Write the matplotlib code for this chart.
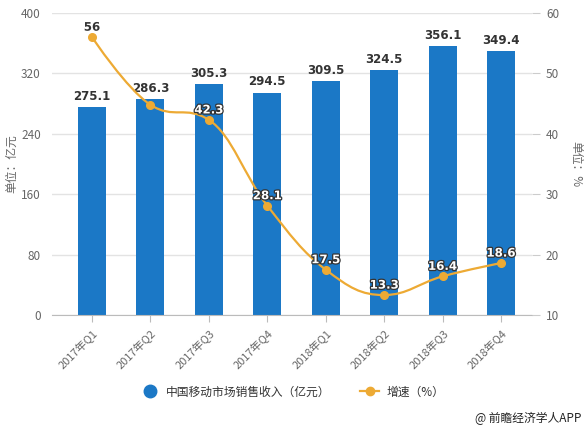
import matplotlib
matplotlib.use("Agg")
import matplotlib.pyplot as plt
from matplotlib.path import Path
from matplotlib.patches import PathPatch
from matplotlib.lines import Line2D
import matplotlib.patheffects as pe

plt.rcParams['font.family'] = ['Noto Sans CJK SC', 'DejaVu Sans']

categories = ["2017年Q1", "2017年Q2", "2017年Q3", "2017年Q4",
              "2018年Q1", "2018年Q2", "2018年Q3", "2018年Q4"]
revenue = [275.1, 286.3, 305.3, 294.5, 309.5, 324.5, 356.1, 349.4]
growth = [56, 44.8, 42.3, 28.1, 17.5, 13.3, 16.4, 18.6]
growth_labels = ["56", "", "42.3", "28.1", "17.5", "13.3", "16.4", "18.6"]
left_ticks = [0, 80, 160, 240, 320, 400]
right_ticks = [10, 20, 30, 40, 50, 60]

BLUE = "#1B78C6"
ORANGE = "#EDAA34"
GRID = "#E3E3E3"
TICKC = "#666666"

W, H = 587, 429
fig = plt.figure(figsize=(W / 100, H / 100), dpi=100)
x0, x1 = 52, 532
y0, y1 = 13, 315
ax = fig.add_axes([x0 / W, 1 - y1 / H, (x1 - x0) / W, (y1 - y0) / H])
ax2 = ax.twinx()

xs = list(range(len(categories)))
ax.bar(xs, revenue, width=0.48, color=BLUE, zorder=2)
ax.set_ylim(0, 400)
ax.set_yticks(left_ticks)
ax.set_xlim(-0.685, 7.53)
ax.set_xticks(xs)
ax.set_xticklabels(categories, rotation=45, ha="right", rotation_mode="anchor",
                   fontsize=8, color=TICKC)
ax.tick_params(axis="x", length=5, color="#BBBBBB", pad=4)
ax.tick_params(axis="y", length=0, labelsize=8.5, labelcolor=TICKC, pad=8)
ax.grid(axis="y", color=GRID, linewidth=1, zorder=0)
ax.set_axisbelow(True)
for s in ["top", "left", "right"]:
    ax.spines[s].set_visible(False)
ax.spines["bottom"].set_color("#BBBBBB")
for s in ax2.spines.values():
    s.set_visible(False)

for x, v in zip(xs, revenue):
    ax.annotate(f"{v:.1f}", (x, v), xytext=(0, 3), textcoords="offset points",
                ha="center", va="bottom", fontsize=8.5, fontweight="bold",
                color="#333333", family=["DejaVu Sans"])

# smooth spline (Highcharts-like bezier control points)
ax2.set_ylim(10, 60)
ax2.set_yticks(right_ticks)
ax2.tick_params(axis="y", length=6, color="#CCCCCC", labelsize=8.5,
                labelcolor=TICKC, pad=4)
n = len(growth)
verts = [(xs[0], growth[0])]
codes = [Path.MOVETO]
ctrl = []
sm = 1.5
for i in range(n):
    if 0 < i < n - 1:
        lx = (sm * xs[i] + xs[i - 1]) / (sm + 1)
        ly = (sm * growth[i] + growth[i - 1]) / (sm + 1)
        rx = (sm * xs[i] + xs[i + 1]) / (sm + 1)
        ry = (sm * growth[i] + growth[i + 1]) / (sm + 1)
        corr = (ry - ly) * (rx - xs[i]) / (rx - lx) + growth[i] - ry
        ly += corr
        ry += corr
        if ly > max(growth[i - 1], growth[i]):
            ly = max(growth[i - 1], growth[i]); ry = 2 * growth[i] - ly
        elif ly < min(growth[i - 1], growth[i]):
            ly = min(growth[i - 1], growth[i]); ry = 2 * growth[i] - ly
        if ry > max(growth[i + 1], growth[i]):
            ry = max(growth[i + 1], growth[i]); ly = 2 * growth[i] - ry
        elif ry < min(growth[i + 1], growth[i]):
            ry = min(growth[i + 1], growth[i]); ly = 2 * growth[i] - ry
        ctrl.append(((lx, ly), (rx, ry)))
    else:
        ctrl.append(((xs[i], growth[i]), (xs[i], growth[i])))
for i in range(1, n):
    verts += [ctrl[i - 1][1], ctrl[i][0], (xs[i], growth[i])]
    codes += [Path.CURVE4, Path.CURVE4, Path.CURVE4]
ax2.add_patch(PathPatch(Path(verts, codes), facecolor="none",
                        edgecolor=ORANGE, linewidth=1.6, zorder=3))
ax2.plot(xs, growth, linestyle="none", marker="o", markersize=5.5,
         color=ORANGE, zorder=4)
for i, (x, v, t) in enumerate(zip(xs, growth, growth_labels)):
    if not t:
        continue
    if i == 0:
        fc, sc = "#333333", "white"
    else:
        fc, sc = "white", "#333333"
    ax2.annotate(t, (x, v), xytext=(0, 2.5), textcoords="offset points",
                 ha="center", va="bottom", fontsize=8.5, fontweight="bold",
                 color=fc, family=["DejaVu Sans"],
                 path_effects=[pe.withStroke(linewidth=1.8, foreground=sc)],
                 zorder=5)

fig.text(12 / W, 1 - 164 / H, "单位：亿元", rotation=90, ha="center", va="center",
         fontsize=8.5, color=TICKC)
fig.text(576 / W, 1 - 164 / H, "单位：%", rotation=-90, ha="center", va="center",
         fontsize=8.5, color=TICKC)

handles = [
    Line2D([], [], linestyle="none", marker="o", markersize=9, color=BLUE),
    Line2D([], [], color=ORANGE, marker="o", markersize=6, linewidth=1.6),
]
fig.legend(handles, ["中国移动市场销售收入（亿元）", "增速（%）"],
           loc="center", bbox_to_anchor=(292 / W, 1 - 392 / H), ncol=2,
           frameon=False, fontsize=8.5, handlelength=1.6, columnspacing=2.5,
           handletextpad=0.6, labelcolor="#333333")
fig.text(581 / W, 1 - 418 / H, "@ 前瞻经济学人APP", ha="right", va="center",
         fontsize=8.5, color="#222222")

fig.savefig("out.png", dpi=100)
